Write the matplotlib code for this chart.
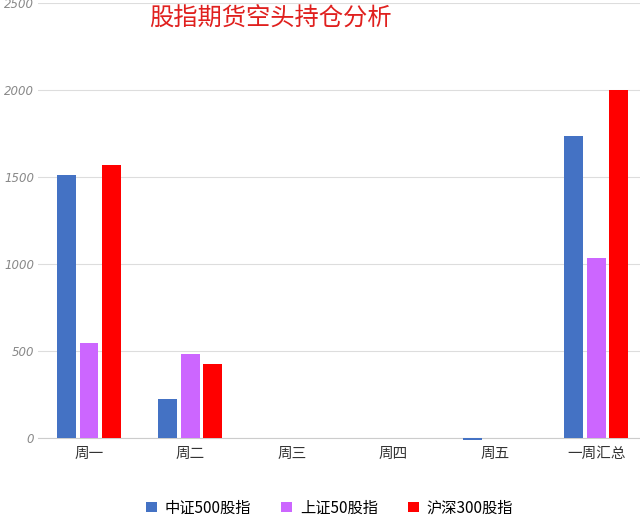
import matplotlib.pyplot as plt
import numpy as np

plt.rcParams['font.family'] = ['Noto Sans CJK SC', 'DejaVu Sans']

categorias = ['周一', '周二', '周三', '周四', '周五', '一周汇总']
series = ['中证500股指', '上证50股指', '沪深300股指']
zz500 = [1511, 224, 0, 0, -10, 1736]
sz50 = [546, 483, 0, 0, 0, 1034]
hs300 = [1569, 425, 0, 0, 0, 2000]
yticks = [0, 500, 1000, 1500, 2000, 2500]

cores = ['#4472C4', '#CC66FF', '#FF0000']

fig = plt.figure(figsize=(6.4, 5.21), dpi=100)
ax = fig.add_axes([0.0598, 0.159, 0.951, 0.835])

x = np.arange(len(categorias))
largura = 0.187
desloc = 0.222
for i, (vals, nome) in enumerate(zip([zz500, sz50, hs300], series)):
    ax.bar(x + (i - 1) * desloc, vals, largura, color=cores[i], label=nome,
           zorder=3, clip_on=False)

ax.set_xlim(-0.5, 5.5)
ax.set_ylim(0, 2500)
ax.set_yticks(yticks)
ax.set_yticklabels([str(v) for v in yticks], fontsize=8.5, style='italic',
                   color='#888888', family='DejaVu Sans')
ax.set_xticks(x)
ax.set_xticklabels(categorias, fontsize=10.5, color='#333333')
ax.tick_params(axis='x', length=0, pad=6)
ax.tick_params(axis='y', length=0, pad=3)
ax.grid(axis='y', color='#DDDDDD', linewidth=0.8, zorder=0)
for s in ['top', 'right', 'left']:
    ax.spines[s].set_visible(False)
ax.spines['bottom'].set_color('#CCCCCC')
ax.spines['bottom'].set_zorder(2)

fig.text(0.422, 0.965, '股指期货空头持仓分析', color='#E0201E', fontsize=17.5,
         ha='center', va='center')

fig.legend(loc='center', bbox_to_anchor=(0.515, 0.025), ncol=3, frameon=False,
           fontsize=11, handlelength=0.7, handleheight=0.7, columnspacing=2.0,
           handletextpad=0.5)

fig.savefig('out.png', dpi=100)
